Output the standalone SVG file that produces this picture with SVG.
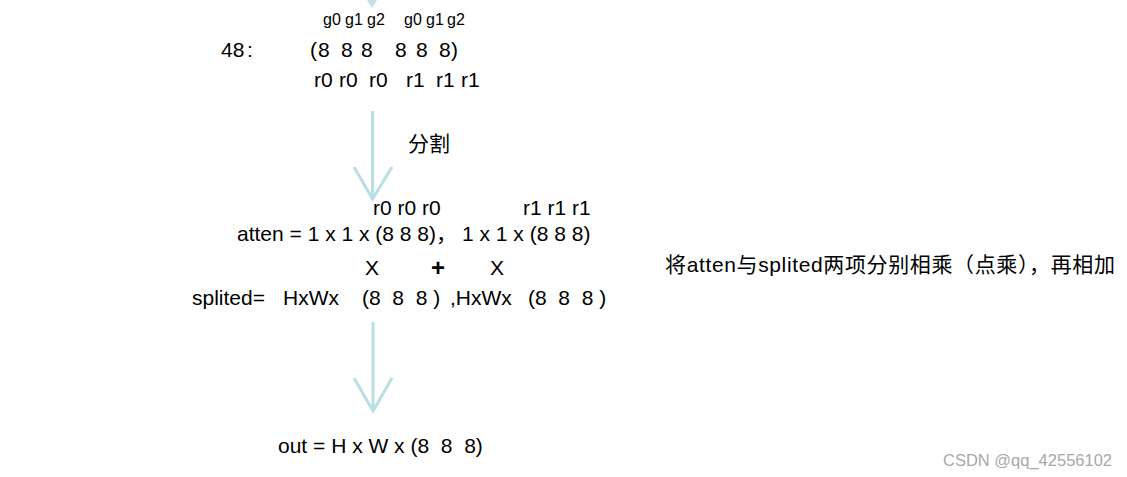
<svg xmlns="http://www.w3.org/2000/svg" width="1127" height="477" viewBox="0 0 1127 477" xml:space="preserve">
<style>
text{font-family:"Liberation Sans",Arial,"Noto Sans CJK SC",sans-serif;fill:#000;font-size:21px;white-space:pre}
.sm{font-size:16px}
.cjk{font-family:"Liberation Sans",Arial,"Noto Sans CJK SC",sans-serif}
.arr{stroke:#b9dfe4;stroke-width:3;fill:none;stroke-linecap:butt}
.wm{fill:#a8a8a8;font-size:16.5px}
</style>
<rect width="1127" height="477" fill="#fff"/>
<g id="connectors">
<polygon points="367,0 377,0 372,8" fill="#c3e3e8"/>
<path class="arr" d="M372.5 111 V199 M354 167 L372.5 199 L392 167"/>
<path class="arr" d="M373 322 V411 M354 378 L373 411 L392 378"/>
</g>
<g id="node-input">
<text class="sm" y="25"><tspan x="323">g0</tspan> <tspan x="345">g1</tspan> <tspan x="367">g2</tspan>   <tspan x="404">g0</tspan> <tspan x="426">g1</tspan> <tspan x="447">g2</tspan></text>
<text x="221" y="57">48<tspan x="247">:</tspan></text>
<text y="57"><tspan x="310">(</tspan><tspan x="318">8</tspan>  <tspan x="341">8</tspan>  <tspan x="361">8</tspan>   <tspan x="395">8</tspan>  <tspan x="416">8</tspan>  <tspan x="439">8</tspan><tspan x="451">)</tspan></text>
<text y="87"><tspan x="314">r0</tspan> <tspan x="339">r0</tspan>  <tspan x="369">r0</tspan>   <tspan x="406">r1</tspan>  <tspan x="436">r1</tspan> <tspan x="461">r1</tspan></text>
</g>
<g id="label-split">
<text class="cjk" x="408" y="151">分割</text>
</g>
<g id="node-atten">
<text x="373" y="215">r0 r0 r0</text>
<text x="523" y="215">r1 r1 r1</text>
<text x="237" y="241">atten = 1 x 1 x (8 8 8)，<tspan x="462">1 x 1 x (8 8 8)</tspan></text>
<text x="365" y="275">X</text>
<text x="431" y="276" style="font-weight:bold;font-size:24px">+</text>
<text x="490" y="275">X</text>
<text y="305"><tspan x="192">splited=</tspan>   <tspan x="283">HxWx</tspan>   <tspan x="362">(8  8  8 )</tspan> <tspan x="450">,HxWx</tspan>   <tspan x="528">(8  8  8 )</tspan></text>
</g>
<g id="note">
<text class="cjk" x="665" y="272" textLength="450" lengthAdjust="spacing">将atten与splited两项分别相乘（点乘），再相加</text>
</g>
<g id="node-out">
<text x="278" y="453">out = H x W x (8  8  8)</text>
</g>
<text class="wm" x="943" y="466">CSDN @qq_42556102</text>
</svg>
